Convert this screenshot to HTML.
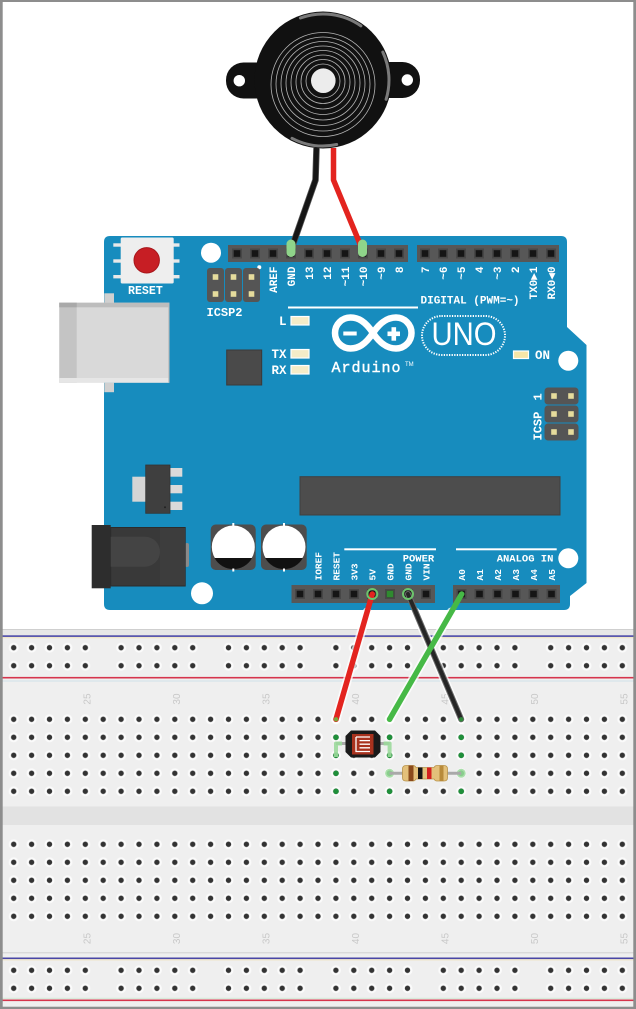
<!DOCTYPE html>
<html><head><meta charset="utf-8"><style>
html,body{margin:0;padding:0;background:#fff}
svg{display:block}
.lb{font-family:"Liberation Mono","DejaVu Sans Mono",monospace;font-weight:bold;font-size:11px;fill:#fff}
.bl{font-family:"Liberation Sans",sans-serif;font-size:10px;fill:#c8c8c8}
</style></head><body>
<svg width="636" height="1009" viewBox="0 0 636 1009" xmlns="http://www.w3.org/2000/svg">
<defs>
<pattern id="hp" patternUnits="userSpaceOnUse" x="4.75" y="0" width="17.9" height="18">
<circle cx="8.95" cy="9" r="5" fill="#fbfbfb"/><circle cx="8.95" cy="9" r="2.7" fill="#333"/>
</pattern>
<g id="pin"><rect x="-5" y="-5" width="10" height="10" fill="#474747"/><rect x="-3.3" y="-3.3" width="6.6" height="6.6" fill="#151515"/></g>
<g id="ypin"><rect x="-2.8" y="-2.8" width="5.6" height="5.6" fill="#e6dc9c"/></g>
</defs>
<rect width="636" height="1009" fill="#fff"/>

<!-- ============ BREADBOARD ============ -->
<rect x="2" y="629" width="632" height="378" fill="#efefef"/>
<line x1="2" y1="629.5" x2="634" y2="629.5" stroke="#cfcfcf"/>
<rect x="2" y="630" width="632" height="5" fill="#e7e7e7"/>
<rect x="2" y="635.3" width="632" height="1.6" fill="#4a47a6"/>
<rect x="2" y="637.2" width="632" height="1" fill="#efe4bf"/>
<rect x="2" y="676.9" width="632" height="1.6" fill="#d6344c"/>
<rect x="2" y="680.5" width="632" height="1" fill="#cfe2ea"/>
<rect x="2" y="806.5" width="632" height="18.5" fill="#e2e2e2"/>
<rect x="2" y="952.3" width="632" height="1" fill="#d2d2d2"/>
<rect x="2" y="957.5" width="632" height="1.6" fill="#4a47a6"/>
<rect x="2" y="959.4" width="632" height="1" fill="#efe4bf"/>
<rect x="2" y="997.8" width="632" height="1" fill="#d2e8d6"/>
<rect x="2" y="999.5" width="632" height="1.6" fill="#d6344c"/>

<!-- rails top -->
<g transform="translate(0,638.7)">
<rect x="4.75" y="0" width="89.5" height="36" fill="url(#hp)"/>
<rect x="112.15" y="0" width="89.5" height="36" fill="url(#hp)"/>
<rect x="219.55" y="0" width="89.5" height="36" fill="url(#hp)"/>
<rect x="326.95" y="0" width="89.5" height="36" fill="url(#hp)"/>
<rect x="434.35" y="0" width="89.5" height="36" fill="url(#hp)"/>
<rect x="541.75" y="0" width="89.5" height="36" fill="url(#hp)"/>
</g>
<!-- rails bottom -->
<g transform="translate(0,961.3)">
<rect x="4.75" y="0" width="89.5" height="36" fill="url(#hp)"/>
<rect x="112.15" y="0" width="89.5" height="36" fill="url(#hp)"/>
<rect x="219.55" y="0" width="89.5" height="36" fill="url(#hp)"/>
<rect x="326.95" y="0" width="89.5" height="36" fill="url(#hp)"/>
<rect x="434.35" y="0" width="89.5" height="36" fill="url(#hp)"/>
<rect x="541.75" y="0" width="89.5" height="36" fill="url(#hp)"/>
</g>
<!-- main holes -->
<g transform="translate(0,710.3)"><rect x="4.75" y="0" width="626.5" height="90" fill="url(#hp)"/></g>
<g transform="translate(0,835.3)"><rect x="4.75" y="0" width="626.5" height="90" fill="url(#hp)"/></g>

<!-- column labels -->
<g class="bl" text-anchor="middle">
<text transform="translate(90.3,699) rotate(-90)">25</text>
<text transform="translate(179.8,699) rotate(-90)">30</text>
<text transform="translate(269.3,699) rotate(-90)">35</text>
<text transform="translate(358.8,699) rotate(-90)">40</text>
<text transform="translate(448.3,699) rotate(-90)">45</text>
<text transform="translate(537.8,699) rotate(-90)">50</text>
<text transform="translate(627.3,699) rotate(-90)">55</text>
<text transform="translate(90.3,938.5) rotate(-90)">25</text>
<text transform="translate(179.8,938.5) rotate(-90)">30</text>
<text transform="translate(269.3,938.5) rotate(-90)">35</text>
<text transform="translate(358.8,938.5) rotate(-90)">40</text>
<text transform="translate(448.3,938.5) rotate(-90)">45</text>
<text transform="translate(537.8,938.5) rotate(-90)">50</text>
<text transform="translate(627.3,938.5) rotate(-90)">55</text>
</g>

<!-- connected holes (green) -->
<g fill="#1f8f3a">
<circle cx="336" cy="719.3" r="2.8"/><circle cx="336" cy="737.3" r="2.8"/><circle cx="336" cy="755.3" r="2.8"/><circle cx="336" cy="773.3" r="2.8"/><circle cx="336" cy="791.3" r="2.8"/>
<circle cx="389.6" cy="719.3" r="2.8"/><circle cx="389.6" cy="737.3" r="2.8"/><circle cx="389.6" cy="755.3" r="2.8"/><circle cx="389.6" cy="773.3" r="2.8"/><circle cx="389.6" cy="791.3" r="2.8"/>
<circle cx="461.2" cy="719.3" r="2.8"/><circle cx="461.2" cy="737.3" r="2.8"/><circle cx="461.2" cy="755.3" r="2.8"/><circle cx="461.2" cy="773.3" r="2.8"/><circle cx="461.2" cy="791.3" r="2.8"/>
</g>

<!-- LDR -->
<g>
<line x1="336" y1="743.5" x2="347" y2="743.5" stroke="#a9a9a9" stroke-width="3"/>
<line x1="379" y1="743.5" x2="389.6" y2="743.5" stroke="#a9a9a9" stroke-width="3"/>
<path d="M342 743.5 H336 V757" fill="none" stroke="#9bd99b" stroke-width="4" stroke-linejoin="round" opacity="0.9"/>
<path d="M383.6 743.5 H389.6 V757" fill="none" stroke="#9bd99b" stroke-width="4" stroke-linejoin="round" opacity="0.9"/>
<path d="M351 730.5 H375 L380.5 736 V752 L375 757.5 H351 L345.5 752 V736 Z" fill="#1a1a1a"/>
<rect x="352" y="734" width="21.5" height="20.5" fill="#a8321e"/>
<path d="M356 737 H370 M356 737 V751.5 H370 M359.5 740.6 H370 M359.5 744.2 H370 M359.5 747.8 H370" fill="none" stroke="#fff" stroke-width="1.3"/>
</g>

<!-- Resistor -->
<g>
<circle cx="389.6" cy="773.3" r="4.5" fill="#9bd99b" opacity="0.85"/>
<circle cx="461.2" cy="773.3" r="4.5" fill="#9bd99b" opacity="0.85"/>
<line x1="389.6" y1="773.3" x2="461.2" y2="773.3" stroke="#a9a9a9" stroke-width="3"/>
<path d="M406 765.5 H413 Q415 765.5 416 767.5 H434 Q435 765.5 437 765.5 H444 Q447.5 765.5 447.5 769 V777.6 Q447.5 781 444 781 H437 Q435 781 434 779 H416 Q415 781 413 781 H406 Q402.5 781 402.5 777.6 V769 Q402.5 765.5 406 765.5 Z" fill="#e3c07a" stroke="#b8934a" stroke-width="0.8"/>
<rect x="408.5" y="765.5" width="5" height="15.5" fill="#8a4a1c"/>
<rect x="418" y="767.5" width="4.5" height="11.5" fill="#151515"/>
<rect x="427" y="767.5" width="4.5" height="11.5" fill="#d3201f"/>
<rect x="439.5" y="765.5" width="4" height="15.5" fill="#b88a3a"/>
</g>

<!-- ============ ARDUINO BOARD ============ -->
<path d="M110 236 H561 Q567 236 567 242 V327 L586.5 345 V583 L570 596 V604 Q570 610 564 610 H110 Q104 610 104 604 V242 Q104 236 110 236 Z" fill="#178cbe"/>

<!-- USB -->
<rect x="104.3" y="293.3" width="9.7" height="10" fill="#d0d0d0"/>
<rect x="104.3" y="382.7" width="9.7" height="9.5" fill="#d0d0d0"/>
<rect x="59.3" y="302.7" width="110" height="80" fill="#d9d9d9"/>
<rect x="59.3" y="302.7" width="17.4" height="80" fill="#c4c4c4"/>
<rect x="59.3" y="302.7" width="110" height="4.6" fill="#bdbdbd"/>
<rect x="59.3" y="302.7" width="17.4" height="4.6" fill="#a9a9a9"/>
<rect x="59.3" y="378" width="110" height="4.7" fill="#e6e6e6"/>
<rect x="168.3" y="302.7" width="1.2" height="80" fill="#bcbcbc"/>

<!-- reset button -->
<g fill="#e8e8e8">
<rect x="113.3" y="243.3" width="8" height="3.4"/><rect x="113.3" y="259.3" width="8" height="3.4"/><rect x="113.3" y="275" width="8" height="3.4"/>
<rect x="173.5" y="243.3" width="6" height="3.4"/><rect x="173.5" y="259.3" width="6" height="3.4"/><rect x="173.5" y="275" width="6" height="3.4"/>
</g>
<rect x="120.7" y="237.5" width="53" height="46" rx="1.5" fill="#eeeeee"/>
<circle cx="146.7" cy="260.3" r="12.7" fill="#c71e24" stroke="#a8161b" stroke-width="1"/>
<text class="lb" x="128" y="294" style="font-size:11.6px">RESET</text>

<!-- mounting holes -->
<circle cx="211" cy="252.7" r="10" fill="#fff"/>
<circle cx="568.3" cy="360.7" r="10" fill="#fff"/>
<circle cx="202" cy="593.3" r="11" fill="#fff"/>
<circle cx="568.3" cy="558.3" r="10" fill="#fff"/>

<!-- top headers -->
<rect x="228" y="245" width="180" height="17" fill="#575757"/>
<rect x="417" y="245" width="142" height="17" fill="#575757"/>
<use href="#pin" x="237" y="253.5"/><use href="#pin" x="255" y="253.5"/><use href="#pin" x="273" y="253.5"/><use href="#pin" x="291" y="253.5"/><use href="#pin" x="309" y="253.5"/><use href="#pin" x="327" y="253.5"/><use href="#pin" x="345" y="253.5"/><use href="#pin" x="363" y="253.5"/><use href="#pin" x="381" y="253.5"/><use href="#pin" x="399" y="253.5"/>
<use href="#pin" x="425" y="253.5"/><use href="#pin" x="443" y="253.5"/><use href="#pin" x="461" y="253.5"/><use href="#pin" x="479" y="253.5"/><use href="#pin" x="497" y="253.5"/><use href="#pin" x="515" y="253.5"/><use href="#pin" x="533" y="253.5"/><use href="#pin" x="551" y="253.5"/>
<circle cx="259.3" cy="267.3" r="2" fill="#fff"/>

<g class="lb" text-anchor="end">
<text transform="translate(276.8,266.5) rotate(-90)">AREF</text>
<text transform="translate(294.8,266.5) rotate(-90)">GND</text>
<text transform="translate(312.8,266.5) rotate(-90)">13</text>
<text transform="translate(330.8,266.5) rotate(-90)">12</text>
<text transform="translate(348.8,266.5) rotate(-90)">~11</text>
<text transform="translate(366.8,266.5) rotate(-90)">~10</text>
<text transform="translate(384.8,266.5) rotate(-90)">~9</text>
<text transform="translate(402.8,266.5) rotate(-90)">8</text>
<text transform="translate(428.8,266.5) rotate(-90)">7</text>
<text transform="translate(446.8,266.5) rotate(-90)">~6</text>
<text transform="translate(464.8,266.5) rotate(-90)">~5</text>
<text transform="translate(482.8,266.5) rotate(-90)">4</text>
<text transform="translate(500.8,266.5) rotate(-90)">~3</text>
<text transform="translate(518.8,266.5) rotate(-90)">2</text>
<text transform="translate(536.8,266.5) rotate(-90)">TX0▶1</text>
<text transform="translate(554.8,266.5) rotate(-90)">RX0◀0</text>
</g>
<rect x="288" y="306.5" width="130" height="2" fill="#fff"/>
<text class="lb" x="420.5" y="303.5">DIGITAL (PWM=~)</text>

<!-- ICSP2 -->
<rect x="207" y="268" width="17" height="34" rx="3" fill="#555"/>
<rect x="225" y="268" width="17" height="34" rx="3" fill="#555"/>
<rect x="243" y="268" width="17" height="34" rx="3" fill="#555"/>
<use href="#ypin" x="215.5" y="277"/><use href="#ypin" x="215.5" y="294"/>
<use href="#ypin" x="233.5" y="277"/><use href="#ypin" x="233.5" y="294"/>
<use href="#ypin" x="251.5" y="277"/><use href="#ypin" x="251.5" y="294"/>
<text class="lb" x="206.5" y="316" style="font-size:12px">ICSP2</text>

<!-- LEDs -->
<g fill="#f4ecc8" stroke="#fff" stroke-width="1.2">
<rect x="291" y="316.5" width="18" height="8.5"/>
<rect x="291" y="349.5" width="18" height="8.5"/>
<rect x="291" y="365.5" width="18" height="8.5"/>
<rect x="513.5" y="351" width="15" height="7.5" fill="#f6e6a8"/>
</g>
<g class="lb" style="font-size:12.5px" text-anchor="end">
<text x="286.5" y="325">L</text>
<text x="286.5" y="358">TX</text>
<text x="286.5" y="374">RX</text>
</g>
<text class="lb" x="535" y="359" style="font-size:12.5px">ON</text>

<!-- small chip -->
<rect x="226.7" y="350" width="35" height="35" fill="#4a4a4a" stroke="#3a3a3a" stroke-width="1"/>

<!-- Arduino logo -->
<path d="M373 333 C365 321 358 317.5 350.5 317.5 A15.5 15.5 0 0 0 350.5 348.5 C358 348.5 365 345 373 333 C381 321 388.5 317.5 396 317.5 A15.5 15.5 0 0 1 396 348.5 C388.5 348.5 381 345 373 333 Z" fill="none" stroke="#fff" stroke-width="6.5"/>
<rect x="343.3" y="331.5" width="13.4" height="4" fill="#fff"/>
<rect x="387.5" y="331.5" width="12.5" height="4.6" fill="#fff"/>
<rect x="391.5" y="327.2" width="4.6" height="13.5" fill="#fff"/>
<text x="331.5" y="372" style="font-family:'Liberation Mono','DejaVu Sans Mono',monospace;font-size:15px;letter-spacing:1px;fill:#fff;stroke:#fff;stroke-width:0.4">Arduino</text>
<text x="405" y="366" style="font-family:'Liberation Sans',sans-serif;font-size:6px;fill:#fff">TM</text>

<!-- UNO -->
<rect x="422" y="316" width="83" height="39" rx="19.5" fill="none" stroke="#fff" stroke-width="2" stroke-dasharray="1.3 1.3"/>
<text x="431.5" y="345" textLength="65" lengthAdjust="spacingAndGlyphs" style="font-family:'Liberation Sans',sans-serif;font-size:32px;fill:#fff">UNO</text>

<!-- ICSP right -->
<rect x="544.5" y="387.5" width="34" height="17" rx="3.5" fill="#555"/>
<rect x="544.5" y="405.5" width="34" height="17" rx="3.5" fill="#555"/>
<rect x="544.5" y="423.5" width="34" height="17" rx="3.5" fill="#555"/>
<use href="#ypin" x="554" y="396"/><use href="#ypin" x="571" y="396"/>
<use href="#ypin" x="554" y="414"/><use href="#ypin" x="571" y="414"/>
<use href="#ypin" x="554" y="432"/><use href="#ypin" x="571" y="432"/>
<text class="lb" transform="translate(541.5,440.5) rotate(-90)" style="font-size:12px">ICSP</text>
<text class="lb" transform="translate(541.5,400.5) rotate(-90)" style="font-size:12px">1</text>

<!-- voltage regulator -->
<rect x="132.3" y="476.7" width="13.4" height="25" fill="#d5d5d5"/>
<rect x="170" y="468" width="12.3" height="8.7" fill="#dadada"/>
<rect x="170" y="485" width="12.3" height="8.3" fill="#dadada"/>
<rect x="170" y="501.7" width="12.3" height="8.3" fill="#dadada"/>
<rect x="145.7" y="465" width="24.3" height="48.3" fill="#3f3f3f" stroke="#333" stroke-width="0.8"/>
<circle cx="165" cy="507.3" r="1" fill="#222"/>

<!-- big chip -->
<rect x="300" y="476.7" width="260" height="38.3" fill="#4d4d4d" stroke="#404040" stroke-width="1"/>

<!-- power jack -->
<rect x="185" y="543" width="4" height="24" rx="2" fill="#8a8a8a"/>
<rect x="91.7" y="525" width="19" height="63.3" fill="#2d2d2d"/>
<rect x="110.7" y="527.5" width="74.5" height="58.5" fill="#393939" stroke="#2c2c2c" stroke-width="1"/>
<path d="M110.7 536.7 H145 A15 15 0 0 1 145 566.7 H110.7 Z" fill="#444"/>
<rect x="160" y="528" width="25" height="57.5" fill="#3d3d3d"/>

<!-- capacitors -->
<rect x="210.7" y="524.5" width="45" height="45.5" rx="5" fill="#4d4d4d"/>
<circle cx="233.3" cy="547" r="21.5" fill="#fff"/>
<path d="M214.5 558 A21.5 21.5 0 0 0 252.1 558 Z" fill="#111"/>
<rect x="232.3" y="523" width="2" height="3" fill="#fff"/>
<rect x="232.3" y="568.5" width="2" height="3" fill="#fff"/>
<rect x="261" y="524.5" width="45.7" height="45.5" rx="5" fill="#4d4d4d"/>
<circle cx="284" cy="547" r="21.5" fill="#fff"/>
<path d="M265.2 558 A21.5 21.5 0 0 0 302.8 558 Z" fill="#111"/>
<rect x="283" y="523" width="2" height="3" fill="#fff"/>
<rect x="283" y="568.5" width="2" height="3" fill="#fff"/>

<!-- bottom headers -->
<rect x="344.3" y="548.3" width="91.7" height="2" fill="#fff"/>
<rect x="456" y="548.3" width="100.7" height="2" fill="#fff"/>
<text class="lb" x="402.7" y="561.5" style="font-size:10.5px">POWER</text>
<text class="lb" x="496.7" y="561.5" style="font-size:10.5px">ANALOG IN</text>
<g class="lb" style="font-size:9.5px">
<text transform="translate(321.5,580.5) rotate(-90)">IOREF</text>
<text transform="translate(339.5,580.5) rotate(-90)">RESET</text>
<text transform="translate(357.5,580.5) rotate(-90)">3V3</text>
<text transform="translate(375.5,580.5) rotate(-90)">5V</text>
<text transform="translate(393.5,580.5) rotate(-90)">GND</text>
<text transform="translate(411.5,580.5) rotate(-90)">GND</text>
<text transform="translate(429.5,580.5) rotate(-90)">VIN</text>
<text transform="translate(465,580.5) rotate(-90)">A0</text>
<text transform="translate(483,580.5) rotate(-90)">A1</text>
<text transform="translate(501,580.5) rotate(-90)">A2</text>
<text transform="translate(519,580.5) rotate(-90)">A3</text>
<text transform="translate(537,580.5) rotate(-90)">A4</text>
<text transform="translate(555,580.5) rotate(-90)">A5</text>
</g>
<rect x="291.5" y="585" width="143.5" height="18" fill="#575757"/>
<rect x="453" y="585" width="107" height="18" fill="#575757"/>
<use href="#pin" x="300" y="594"/><use href="#pin" x="318" y="594"/><use href="#pin" x="336" y="594"/><use href="#pin" x="354" y="594"/><use href="#pin" x="372" y="594"/><use href="#pin" x="390" y="594"/><use href="#pin" x="408" y="594"/><use href="#pin" x="426" y="594"/>
<use href="#pin" x="461.5" y="594"/><use href="#pin" x="479.5" y="594"/><use href="#pin" x="497.5" y="594"/><use href="#pin" x="515.5" y="594"/><use href="#pin" x="533.5" y="594"/><use href="#pin" x="551.5" y="594"/>
<rect x="386.7" y="590.7" width="6.6" height="6.6" fill="#2f8a2f"/>

<!-- ============ BUZZER ============ -->
<rect x="226" y="62.5" width="52" height="36" rx="17.5" fill="#111"/>
<rect x="368" y="62" width="52" height="36" rx="17.5" fill="#111"/>
<circle cx="239.3" cy="80.7" r="5.7" fill="#fff"/>
<circle cx="407.3" cy="80" r="5.7" fill="#fff"/>
<circle cx="323" cy="80" r="68.5" fill="#111"/>
<g fill="none" stroke="#7a7a7a" stroke-width="3" stroke-linecap="round">
<path d="M300.4 18 A66 66 0 0 1 360.9 25.9"/>
<path d="M382.8 52.1 A66 66 0 0 1 386.1 99.3"/>
<path d="M336.7 144.5 A66 66 0 0 1 292 138.3"/>
</g>
<g fill="none" stroke="#b5b5b5" stroke-width="0.8">
<circle cx="323" cy="81" r="17"/><circle cx="323" cy="81.5" r="22"/><circle cx="323" cy="82" r="27"/><circle cx="323" cy="82.5" r="32"/><circle cx="323" cy="83" r="37"/><circle cx="323" cy="83.5" r="42"/><circle cx="323" cy="84" r="47"/><circle cx="323" cy="84.5" r="52"/>
</g>
<circle cx="323.3" cy="80.7" r="12.3" fill="#ececec"/>

<!-- buzzer wires -->
<path d="M316.5 148 L315.5 180 L291 250" fill="none" stroke="#555" stroke-width="6.5" stroke-linejoin="round"/>
<path d="M316.5 148 L315.5 180 L291 250" fill="none" stroke="#161616" stroke-width="5" stroke-linejoin="round"/>
<path d="M333.5 148 L333.5 180 L362.5 250" fill="none" stroke="#e3241f" stroke-width="5.5" stroke-linejoin="round"/>
<rect x="286.5" y="239.5" width="9" height="17.5" rx="4.5" fill="#8fd48a"/>
<rect x="358" y="239.5" width="9" height="17.5" rx="4.5" fill="#8fd48a"/>

<!-- ============ WIRES to breadboard ============ -->
<g stroke="#fff" stroke-width="9" stroke-linecap="round" opacity="0.75">
<line x1="367.1" y1="612" x2="336" y2="719.3"/>
<line x1="415.6" y1="612" x2="461.2" y2="719.3"/>
<line x1="451.3" y1="612" x2="389.6" y2="719.3"/>
</g>
<line x1="372.3" y1="594" x2="336" y2="719.3" stroke="#e3241f" stroke-width="5.5" stroke-linecap="round"/>
<line x1="408" y1="594" x2="461.2" y2="719.3" stroke="#6a6a6a" stroke-width="6" stroke-linecap="round"/>
<line x1="408" y1="594" x2="461.2" y2="719.3" stroke="#262626" stroke-width="4" stroke-linecap="round"/>
<line x1="461.7" y1="594" x2="389.6" y2="719.3" stroke="#46b946" stroke-width="5.5" stroke-linecap="round"/>
<circle cx="372.3" cy="594" r="5" fill="none" stroke="#6cc46c" stroke-width="2"/>
<circle cx="408" cy="594" r="5" fill="none" stroke="#6cc46c" stroke-width="2"/>
<circle cx="336" cy="719.3" r="2.2" fill="#7aa83a"/>
<circle cx="461.2" cy="719.3" r="2.2" fill="#2f8a3a"/>

<!-- frame -->
<rect x="0" y="0" width="636" height="2" fill="#8d8d8d"/>
<rect x="0" y="0" width="2.7" height="1009" fill="#8d8d8d"/>
<rect x="633.3" y="0" width="2.7" height="1009" fill="#8d8d8d"/>
<rect x="0" y="1006.7" width="636" height="2.3" fill="#8d8d8d"/>
</svg>
</body></html>
